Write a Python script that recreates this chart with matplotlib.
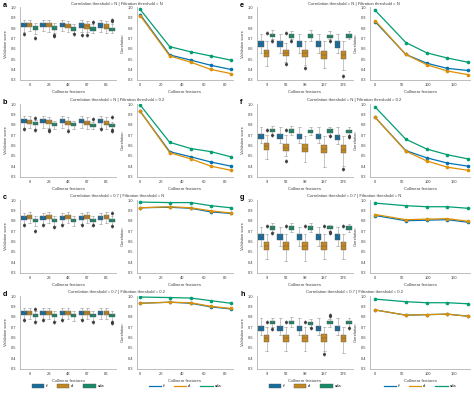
import colorsys
import matplotlib
matplotlib.use("Agg")
import matplotlib.pyplot as plt
import matplotlib.colors as mcolors
from matplotlib.patches import Patch
from matplotlib.lines import Line2D

plt.rcParams['font.family'] = ['Liberation Sans', 'DejaVu Sans']

# ---------------- data ----------------
models = ["rf", "dt", "ada"]
left_cats = ["0", "28", "48", "67", "86"]
left_x = [0, 28, 48, 67, 86]
right_cats = ["9", "58", "98", "137", "176"]
right_x = [0, 58, 98, 137, 176]

titles = {
    "a": "Correlation threshold = N | Filtration threshold = N",
    "b": "Correlation threshold = N | Filtration threshold = 0.2",
    "c": "Correlation threshold = 0.7 | Filtration threshold = N",
    "d": "Correlation threshold = 0.7 | Filtration threshold = 0.2",
    "e": "Correlation threshold = N | Filtration threshold = N",
    "f": "Correlation threshold = N | Filtration threshold = 0.2",
    "g": "Correlation threshold = 0.7 | Filtration threshold = N",
    "h": "Correlation threshold = 0.7 | Filtration threshold = 0.2",
}

# box stats per group: (whislo, q1, med, q3, whishi)
box_a = {
    "rf":  [(0.76, 0.805, 0.825, 0.845, 0.88), (0.77, 0.805, 0.825, 0.845, 0.88), (0.77, 0.805, 0.825, 0.845, 0.88), (0.76, 0.80, 0.822, 0.845, 0.88), (0.76, 0.80, 0.822, 0.845, 0.88)],
    "dt":  [(0.77, 0.81, 0.832, 0.85, 0.88), (0.76, 0.805, 0.828, 0.845, 0.88), (0.76, 0.80, 0.818, 0.84, 0.87), (0.76, 0.795, 0.815, 0.835, 0.87), (0.75, 0.795, 0.812, 0.835, 0.87)],
    "ada": [(0.74, 0.785, 0.80, 0.82, 0.85), (0.75, 0.78, 0.795, 0.815, 0.85), (0.75, 0.775, 0.79, 0.81, 0.84), (0.75, 0.775, 0.788, 0.805, 0.84), (0.75, 0.77, 0.785, 0.80, 0.84)],
}
box_b = {
    "rf":  [(0.77, 0.815, 0.835, 0.855, 0.88), (0.77, 0.815, 0.833, 0.855, 0.88), (0.77, 0.815, 0.833, 0.855, 0.88), (0.77, 0.815, 0.832, 0.855, 0.88), (0.77, 0.815, 0.832, 0.855, 0.88)],
    "dt":  [(0.77, 0.81, 0.83, 0.85, 0.88), (0.77, 0.805, 0.825, 0.845, 0.87), (0.76, 0.80, 0.815, 0.84, 0.87), (0.76, 0.795, 0.812, 0.835, 0.87), (0.76, 0.795, 0.81, 0.835, 0.87)],
    "ada": [(0.76, 0.795, 0.81, 0.825, 0.85), (0.76, 0.79, 0.80, 0.82, 0.84), (0.76, 0.785, 0.795, 0.815, 0.84), (0.76, 0.78, 0.79, 0.805, 0.83), (0.76, 0.78, 0.79, 0.805, 0.83)],
}
box_c = {
    "rf":  [(0.77, 0.81, 0.825, 0.845, 0.87), (0.77, 0.81, 0.825, 0.845, 0.87), (0.77, 0.81, 0.825, 0.845, 0.87), (0.77, 0.81, 0.825, 0.845, 0.87), (0.77, 0.81, 0.825, 0.845, 0.87)],
    "dt":  [(0.78, 0.815, 0.835, 0.855, 0.88), (0.78, 0.815, 0.835, 0.855, 0.88), (0.78, 0.815, 0.835, 0.855, 0.88), (0.78, 0.815, 0.832, 0.855, 0.88), (0.78, 0.815, 0.832, 0.855, 0.88)],
    "ada": [(0.75, 0.785, 0.80, 0.82, 0.85), (0.75, 0.785, 0.80, 0.82, 0.85), (0.75, 0.785, 0.80, 0.82, 0.85), (0.75, 0.785, 0.80, 0.82, 0.85), (0.75, 0.785, 0.80, 0.82, 0.85)],
}
box_d = {
    "rf":  [(0.78, 0.82, 0.84, 0.86, 0.88), (0.78, 0.82, 0.84, 0.86, 0.88), (0.78, 0.82, 0.84, 0.86, 0.88), (0.78, 0.82, 0.84, 0.86, 0.88), (0.78, 0.82, 0.84, 0.86, 0.88)],
    "dt":  [(0.78, 0.82, 0.84, 0.86, 0.88), (0.78, 0.82, 0.84, 0.86, 0.88), (0.78, 0.82, 0.838, 0.86, 0.88), (0.78, 0.82, 0.838, 0.86, 0.88), (0.78, 0.82, 0.838, 0.86, 0.88)],
    "ada": [(0.76, 0.80, 0.815, 0.83, 0.86), (0.76, 0.80, 0.815, 0.83, 0.86), (0.76, 0.80, 0.815, 0.83, 0.86), (0.76, 0.80, 0.815, 0.83, 0.86), (0.76, 0.80, 0.812, 0.83, 0.86)],
}
box_e = {
    "rf":  [(0.56, 0.615, 0.645, 0.67, 0.74), (0.56, 0.615, 0.645, 0.67, 0.74), (0.56, 0.615, 0.645, 0.67, 0.74), (0.56, 0.615, 0.645, 0.67, 0.74), (0.56, 0.61, 0.643, 0.67, 0.74)],
    "dt":  [(0.43, 0.52, 0.56, 0.59, 0.67), (0.47, 0.525, 0.555, 0.585, 0.66), (0.44, 0.52, 0.555, 0.59, 0.67), (0.41, 0.505, 0.54, 0.58, 0.67), (0.39, 0.50, 0.54, 0.575, 0.67)],
    "ada": [(0.69, 0.71, 0.728, 0.745, 0.78), (0.69, 0.705, 0.722, 0.74, 0.77), (0.67, 0.70, 0.72, 0.745, 0.78), (0.69, 0.705, 0.718, 0.735, 0.77), (0.69, 0.705, 0.722, 0.74, 0.77)],
}
box_f = {
    "rf":  [(0.62, 0.665, 0.69, 0.715, 0.78), (0.62, 0.66, 0.685, 0.71, 0.78), (0.62, 0.66, 0.685, 0.71, 0.78), (0.62, 0.66, 0.685, 0.71, 0.78), (0.61, 0.655, 0.68, 0.705, 0.78)],
    "dt":  [(0.47, 0.56, 0.595, 0.625, 0.70), (0.50, 0.55, 0.58, 0.61, 0.70), (0.44, 0.54, 0.57, 0.61, 0.69), (0.39, 0.53, 0.565, 0.60, 0.69), (0.40, 0.53, 0.56, 0.60, 0.69)],
    "ada": [(0.70, 0.725, 0.74, 0.755, 0.79), (0.70, 0.72, 0.74, 0.76, 0.79), (0.70, 0.72, 0.735, 0.75, 0.78), (0.70, 0.72, 0.735, 0.755, 0.78), (0.70, 0.72, 0.735, 0.75, 0.78)],
}
box_g = {
    "rf":  [(0.56, 0.615, 0.645, 0.67, 0.74), (0.56, 0.615, 0.645, 0.67, 0.74), (0.56, 0.615, 0.645, 0.67, 0.74), (0.56, 0.615, 0.645, 0.67, 0.74), (0.56, 0.615, 0.645, 0.67, 0.74)],
    "dt":  [(0.43, 0.52, 0.56, 0.59, 0.67), (0.41, 0.515, 0.555, 0.59, 0.67), (0.41, 0.515, 0.555, 0.59, 0.67), (0.43, 0.52, 0.555, 0.59, 0.67), (0.43, 0.52, 0.555, 0.59, 0.67)],
    "ada": [(0.69, 0.715, 0.73, 0.745, 0.78), (0.69, 0.715, 0.73, 0.745, 0.78), (0.69, 0.715, 0.73, 0.745, 0.78), (0.70, 0.72, 0.733, 0.745, 0.76), (0.69, 0.715, 0.73, 0.745, 0.77)],
}
box_h = {
    "rf":  [(0.62, 0.665, 0.69, 0.715, 0.79), (0.62, 0.665, 0.69, 0.715, 0.79), (0.62, 0.665, 0.69, 0.715, 0.79), (0.62, 0.665, 0.69, 0.715, 0.79), (0.62, 0.665, 0.69, 0.715, 0.79)],
    "dt":  [(0.47, 0.56, 0.595, 0.625, 0.70), (0.47, 0.56, 0.595, 0.625, 0.70), (0.47, 0.56, 0.595, 0.625, 0.70), (0.47, 0.56, 0.595, 0.63, 0.70), (0.45, 0.56, 0.595, 0.625, 0.70)],
    "ada": [(0.70, 0.725, 0.74, 0.755, 0.79), (0.70, 0.725, 0.74, 0.755, 0.80), (0.70, 0.72, 0.735, 0.75, 0.78), (0.70, 0.725, 0.74, 0.755, 0.78), (0.70, 0.725, 0.74, 0.76, 0.79)],
}

# outliers per panel: (group index, model, value)
fliers_a = [(0, "rf", 0.745), (0, "ada", 0.70), (1, "ada", 0.725), (1, "ada", 0.735), (2, "ada", 0.74), (3, "rf", 0.735), (3, "dt", 0.735), (3, "ada", 0.86), (4, "ada", 0.875), (4, "ada", 0.865)]
fliers_b = [(0, "rf", 0.755), (0, "ada", 0.865), (0, "ada", 0.745), (1, "dt", 0.745), (1, "dt", 0.735), (2, "dt", 0.74), (3, "ada", 0.86), (4, "rf", 0.755), (4, "ada", 0.87), (4, "ada", 0.745), (4, "ada", 0.735)]
fliers_c = [(0, "rf", 0.76), (0, "ada", 0.70), (1, "rf", 0.76), (1, "ada", 0.74), (2, "rf", 0.76), (3, "rf", 0.76), (3, "ada", 0.76), (4, "ada", 0.87), (4, "ada", 0.75)]
fliers_d = [(0, "rf", 0.77), (0, "ada", 0.87), (0, "ada", 0.745), (1, "rf", 0.77), (1, "ada", 0.75), (2, "rf", 0.765), (3, "rf", 0.765), (3, "ada", 0.75), (4, "ada", 0.75), (4, "ada", 0.74)]
fliers_e = [(0, "dt", 0.75), (0, "ada", 0.67), (1, "dt", 0.75), (1, "dt", 0.45), (1, "ada", 0.67), (2, "dt", 0.41), (3, "ada", 0.67), (4, "dt", 0.34)]
fliers_f = [(0, "dt", 0.75), (0, "ada", 0.70), (1, "dt", 0.75), (1, "dt", 0.45), (3, "ada", 0.69), (4, "dt", 0.37), (4, "ada", 0.69), (4, "ada", 0.68)]
fliers_g = [(0, "dt", 0.75), (0, "ada", 0.68), (1, "dt", 0.75), (2, "dt", 0.75), (3, "dt", 0.75), (3, "ada", 0.69), (3, "ada", 0.68), (4, "dt", 0.75)]
fliers_h = [(0, "dt", 0.75), (0, "ada", 0.68), (1, "dt", 0.75), (2, "dt", 0.75), (2, "ada", 0.69), (3, "dt", 0.44), (3, "ada", 0.82), (3, "ada", 0.81), (4, "ada", 0.69)]

# correlation lines
line_a = {"rf": [0.93, 0.54, 0.49, 0.44, 0.40], "dt": [0.92, 0.53, 0.47, 0.40, 0.36], "ada": [0.98, 0.62, 0.57, 0.53, 0.49]}
line_b = {"rf": [0.93, 0.54, 0.49, 0.44, 0.40], "dt": [0.93, 0.53, 0.47, 0.40, 0.36], "ada": [0.99, 0.63, 0.57, 0.54, 0.49]}
line_c = {"rf": [0.925, 0.93, 0.92, 0.885, 0.87], "dt": [0.925, 0.935, 0.925, 0.895, 0.875], "ada": [0.98, 0.975, 0.975, 0.945, 0.925]}
line_d = {"rf": [0.93, 0.94, 0.93, 0.895, 0.875], "dt": [0.93, 0.94, 0.935, 0.90, 0.88], "ada": [0.99, 0.985, 0.98, 0.955, 0.93]}
line_e = {"rf": [0.86, 0.545, 0.46, 0.41, 0.39], "dt": [0.87, 0.545, 0.445, 0.385, 0.35], "ada": [0.97, 0.66, 0.56, 0.51, 0.47]}
line_f = {"rf": [0.87, 0.55, 0.48, 0.43, 0.40], "dt": [0.87, 0.545, 0.45, 0.39, 0.36], "ada": [0.97, 0.66, 0.565, 0.51, 0.47]}
line_g = {"rf": [0.85, 0.80, 0.805, 0.81, 0.785], "dt": [0.86, 0.81, 0.815, 0.82, 0.795], "ada": [0.97, 0.945, 0.935, 0.935, 0.92]}
line_h = {"rf": [0.865, 0.815, 0.82, 0.825, 0.805], "dt": [0.865, 0.815, 0.82, 0.825, 0.805], "ada": [0.97, 0.945, 0.935, 0.935, 0.925]}

# ---------------- styling ----------------
base_colors = {"rf": "#0173B2", "dt": "#DE8F05", "ada": "#029E73"}


def desat(c, prop=0.75):
    r, g, b = mcolors.to_rgb(c)
    h, l, s = colorsys.rgb_to_hls(r, g, b)
    return colorsys.hls_to_rgb(h, l, s * prop)


box_colors = {m: desat(c) for m, c in base_colors.items()}
FS = 2.9
W, H = 474, 394

fig = plt.figure(figsize=(W / 100, H / 100), dpi=100)


def fx(px):
    return px / W


def fy(py):
    return 1 - py / H


def style_ax(ax):
    for s in ["top", "right"]:
        ax.spines[s].set_visible(False)
    for s in ["left", "bottom"]:
        ax.spines[s].set_color("0.7")
        ax.spines[s].set_linewidth(0.6)
    ax.tick_params(length=0, labelsize=FS, pad=2.6, colors="0.25")
    ax.set_ylim(0.3, 1.0)
    ax.set_yticks([0.3, 0.4, 0.5, 0.6, 0.7, 0.8, 0.9, 1.0])
    ax.set_yticklabels(["0.3", "0.4", "0.5", "0.6", "0.7", "0.8", "0.9", "1.0"])


def draw_box(ax, box, fliers, cats):
    width = 0.88 / 3
    for mi, m in enumerate(models):
        stats = []
        pos = []
        for gi, (lo, q1, med, q3, hi) in enumerate(box[m]):
            fl = [v for (g, mm, v) in fliers if g == gi and mm == m]
            stats.append(dict(whislo=lo, q1=q1, med=med, q3=q3, whishi=hi, fliers=fl))
            pos.append(gi + (mi - 1) * width)
        ax.bxp(stats, positions=pos, widths=width * 0.97, patch_artist=True, manage_ticks=False,
               boxprops=dict(facecolor=box_colors[m], edgecolor="0.35", linewidth=0.3),
               medianprops=dict(color="0.35", linewidth=0.3),
               whiskerprops=dict(color="0.6", linewidth=0.4),
               capprops=dict(color="0.6", linewidth=0.4),
               flierprops=dict(marker="d", markersize=1.5, markerfacecolor="0.25",
                               markeredgecolor="0.25", linestyle="none"))
    ax.set_xlim(-0.5, len(cats) - 0.5)
    ax.set_xticks(range(len(cats)))
    ax.set_xticklabels(cats)
    style_ax(ax)
    ax.set_xlabel("Collinear features", fontsize=FS + 0.2, labelpad=1.8, color="0.25")
    ax.set_ylabel("Validation score", fontsize=FS, labelpad=2.0, color="0.25")


def draw_line(ax, lines, xs, xticks, xlim):
    for m in models:
        ax.plot(xs, lines[m], color=base_colors[m], lw=0.9, marker="o", markersize=1.6)
    ax.set_xticks(xticks)
    ax.set_xticklabels([str(t) for t in xticks])
    ax.set_xlim(*xlim)
    style_ax(ax)
    ax.set_xlabel("Collinear features", fontsize=FS + 0.2, labelpad=1.8, color="0.25")
    ax.set_ylabel("Correlation", fontsize=FS, labelpad=2.0, color="0.25")


panels_left = [("a", box_a, fliers_a, line_a), ("b", box_b, fliers_b, line_b),
               ("c", box_c, fliers_c, line_c), ("d", box_d, fliers_d, line_d)]
panels_right = [("e", box_e, fliers_e, line_e), ("f", box_f, fliers_f, line_f),
                ("g", box_g, fliers_g, line_g), ("h", box_h, fliers_h, line_h)]

row_tops = [7.3, 104, 200, 296]
title_ys = [3.5, 100, 195.8, 291.5]
ax_h = 72.5

for col, panels in enumerate([panels_left, panels_right]):
    if col == 0:
        bx0, bx1, lx0, lx1 = 20, 116, 137, 233
        cats, xs, xticks, xlim = left_cats, left_x, [0, 20, 40, 60, 80], (-3, 88)
        title_x, letter_x = 117, 2.5
    else:
        bx0, bx1, lx0, lx1 = 257, 353, 370, 470
        cats, xs, xticks, xlim = right_cats, right_x, [0, 50, 100, 150], (-10, 180)
        title_x, letter_x = 354, 240
    for r, (letter, box, fl, ln) in enumerate(panels):
        top = row_tops[r]
        axb = fig.add_axes([fx(bx0), fy(top + ax_h), fx(bx1 - bx0), ax_h / H])
        draw_box(axb, box, fl, cats)
        axl = fig.add_axes([fx(lx0), fy(top + ax_h), fx(lx1 - lx0), ax_h / H])
        draw_line(axl, ln, xs, xticks, xlim)
        fig.text(fx(title_x), fy(title_ys[r]), titles[letter], fontsize=FS + 0.2,
                 ha="center", va="center", color="0.25")
        fig.text(fx(letter_x), fy(top - 2), letter, fontsize=5.2, fontweight="bold",
                 ha="left", va="center")
        if r == 3:
            hb = [Patch(facecolor=box_colors[m], edgecolor="0.35", linewidth=0.3, label=m) for m in models]
            fig.legend(handles=hb, loc="center", bbox_to_anchor=(fx((bx0 + bx1) / 2), fy(386)), ncol=3,
                       fontsize=FS, frameon=False, handlelength=3.0, handleheight=1.2,
                       columnspacing=2.2, handletextpad=0.5)
            hl = [Line2D([0], [0], color=base_colors[m], lw=0.9, label=m) for m in models]
            fig.legend(handles=hl, loc="center", bbox_to_anchor=(fx((lx0 + lx1) / 2), fy(386)), ncol=3,
                       fontsize=FS, frameon=False, handlelength=3.0,
                       columnspacing=2.2, handletextpad=0.5)

fig.savefig("out.png", dpi=100)
